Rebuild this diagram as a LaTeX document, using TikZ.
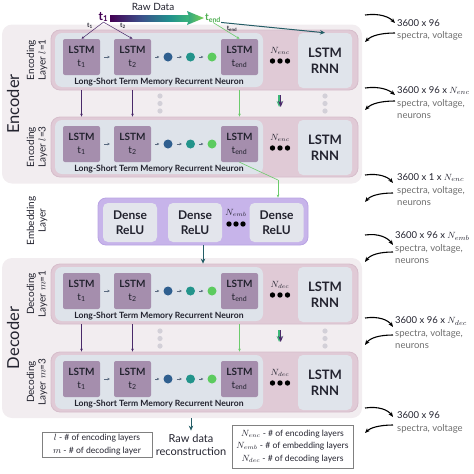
\documentclass[tikz,border=0pt]{standalone}
\usepackage{fontspec}
\setmainfont{Lato}
\usetikzlibrary{arrows.meta}
\definecolor{bgc}{HTML}{F2EDF0}
\definecolor{layerc}{HTML}{E0CAD6}
\definecolor{layerd}{HTML}{D6BDCB}
\definecolor{panelc}{HTML}{DEE3EA}
\definecolor{lstmc}{HTML}{A58EAD}
\definecolor{rnnc}{HTML}{E0E4EB}
\definecolor{embc}{HTML}{C7B4EA}
\definecolor{embd}{HTML}{B9A3E3}
\definecolor{densec}{HTML}{E3E5EC}
\definecolor{txtc}{HTML}{23232F}
\definecolor{greyt}{HTML}{6E6E6E}
\definecolor{dpurp}{HTML}{4A2A6A}
\definecolor{lgreen}{HTML}{6CCB6C}
\definecolor{tealc}{HTML}{245D66}
\definecolor{dotb}{HTML}{2F5F8F}
\definecolor{dott}{HTML}{23948B}
\definecolor{dotg}{HTML}{5CCB5F}
\definecolor{dotgrey}{HTML}{D3D0D8}
\definecolor{chainc}{HTML}{5A6A80}
\definecolor{vira}{HTML}{440154}
\definecolor{virb}{HTML}{3B528B}
\definecolor{virc}{HTML}{21908D}
\definecolor{vird}{HTML}{3CB878}
\definecolor{vire}{HTML}{7AD151}
\pgfdeclarehorizontalshading{rawgrad}{100bp}{color(0bp)=(vira); color(25bp)=(vira); color(45bp)=(virb); color(62bp)=(virc); color(75bp)=(vird); color(100bp)=(vird)}
\newcommand\fsz[2]{\fontsize{#1}{#2}\selectfont}
\tikzset{
  bgbox/.style={fill=bgc, rounded corners=10pt, inner sep=0pt},
  layerbox/.style={fill=layerc, draw=layerd, line width=0.8pt, rounded corners=9pt, minimum width=307pt, minimum height=60pt, inner sep=0pt},
  panel/.style={fill=panelc, rounded corners=7pt, minimum width=208pt, minimum height=54pt, inner sep=0pt},
  lstm/.style={fill=lstmc, rounded corners=2pt, minimum width=37pt, minimum height=36pt, inner sep=0pt, align=center, text=txtc, font=\fsz{10}{13}},
  rnn/.style={fill=rnnc, rounded corners=5pt, minimum width=54pt, minimum height=55pt, inner sep=0pt, align=center, text=txtc, font=\bfseries\fsz{13}{16}},
  dense/.style={fill=densec, rounded corners=5pt, minimum width=54pt, minimum height=39pt, inner sep=0pt, align=center, text=txtc, font=\bfseries\fsz{12}{15}},
  embbox/.style={fill=embc, draw=embd, line width=0.8pt, rounded corners=8pt, minimum width=210pt, minimum height=47pt, inner sep=0pt},
  dotn/.style={circle, minimum size=9pt, inner sep=0pt},
  chain/.style={-{Stealth[length=2.5pt,width=2.5pt]}, draw=chainc, line width=0.5pt, shorten <=4pt, shorten >=4pt},
  neur/.style={font=\bfseries\fsz{8.6}{10}, text=txtc, inner sep=0pt},
  nlab/.style={font=\fsz{9}{10}, text=txtc, inner sep=0pt},
  llab/.style={rotate=90, align=center, font=\fsz{10}{11.5}, text=txtc, inner sep=0pt},
  biglab/.style={rotate=90, font=\fsz{16.5}{18}, text=txtc, inner sep=0pt},
  parr/.style={-{Stealth[length=3pt,width=2.6pt]}, draw=dpurp, line width=0.5pt},
  garr/.style={-{Stealth[length=3pt,width=2.6pt]}, draw=lgreen, line width=0.6pt},
  tarr/.style={-{Stealth[length=5pt,width=4.5pt]}, draw=tealc, line width=1pt},
  cur/.style={-{Stealth[length=5pt,width=4pt]}, draw=black, line width=1.1pt},
  ann/.style={anchor=north west, align=left, inner sep=0pt, font=\fsz{9.5}{12.5}, text=txtc},
  legend/.style={draw=gray, line width=0.6pt, fill=white, align=center, inner sep=2pt, font=\fsz{8.6}{12.5}, text=txtc},
  smalllab/.style={font=\bfseries\fsz{6.5}{7}, text=txtc, inner sep=0pt}
}
\newcommand\mylayer[3]{%
  \node[layerbox] (#1) at (204.5,#2) {};
  \node[panel] (#1p) at (159,#2) {};
  \node[lstm] (#1a) at (81.5,#2-3) {{\bfseries LSTM}\\t\textsubscript{1}};
  \node[lstm] (#1b) at (132.5,#2-3) {{\bfseries LSTM}\\t\textsubscript{2}};
  \node[dotn, fill=dotb] (#1x) at (168,#2-3) {};
  \node[dotn, fill=dott] (#1y) at (190.5,#2-3) {};
  \node[dotn, fill=dotg] (#1z) at (212,#2-3) {};
  \node[lstm] (#1c) at (239.5,#2-3) {{\bfseries LSTM}\\t\textsubscript{end}};
  \draw[chain] (#1a) -- (#1b);
  \draw[chain] (#1b) -- (#1x);
  \draw[chain] (#1x) -- (#1y);
  \draw[chain] (#1y) -- (#1z);
  \node[neur] (#1t) at (159,#2+22.5) {Long-Short Term Memory Recurrent Neuron};
  \node[nlab] (#1n) at (280,#2-9) {#3};
  \fill[black] (272.5,#2+1) circle (2.7pt) (280,#2+1) circle (2.7pt) (287.5,#2+1) circle (2.7pt);
  \node[rnn] (#1r) at (325,#2+0.5) {LSTM\\RNN};
}
\newcommand\betweenlayers[3]{% #1 upper, #2 lower, #3 y of first grey dot
  \draw[parr] (#1a |- #1.south) -- (#1a |- #2.north);
  \draw[parr] (#1b |- #1.south) -- (#1b |- #2.north);
  \draw[garr] (#1c |- #1.south) -- (#1c |- #2.north);
  \fill[dotgrey] (160,#3) circle (2.6pt) (160,#3+7.5) circle (2.6pt) (160,#3+15) circle (2.6pt);
  \fill[dotgrey] (325,#3) circle (2.6pt) (325,#3+7.5) circle (2.6pt) (325,#3+15) circle (2.6pt);
  \coordinate (#1m1) at (280,#3-1);
  \coordinate (#1m2) at (280,#3+11);
  \draw[-{Stealth[length=6pt,width=5pt]}, draw=vird, line width=1.3pt] ([xshift=-0.9pt]#1m1) -- ([xshift=-0.9pt]#1m2);
  \draw[-{Stealth[length=6pt,width=5pt]}, draw=dpurp, line width=1.3pt] ([xshift=0.7pt]#1m1) -- ([xshift=0.7pt]#1m2);
}
\begin{document}
\begin{tikzpicture}[x=1pt,y=-1pt]
\useasboundingbox (0,0) rectangle (474,474);
% backgrounds
\node[bgbox, minimum width=360pt, minimum height=159pt] (encbg) at (182,104) {};
\node[bgbox, minimum width=360pt, minimum height=160pt] (decbg) at (182,338) {};
\node[biglab] (enclab) at (13,104) {Encoder};
\node[biglab] (declab) at (13,338) {Decoder};
% layers
\mylayer{ea}{60}{$N_{enc}$}
\mylayer{eb}{147}{$N_{enc}$}
\mylayer{da}{294}{$N_{dec}$}
\mylayer{db}{382}{$N_{dec}$}
\node[llab] (eal) at (37,60) {Encoding\\Layer $l$=1};
\node[llab] (ebl) at (37,147) {Encoding\\Layer $l$=3};
\node[llab] (emblab) at (37,221) {Embedding\\Layer};
\node[llab] (dal) at (37,294) {Decoding\\Layer $m$=1};
\node[llab] (dbl) at (37,382) {Decoding\\Layer $m$=3};
\betweenlayers{ea}{eb}{96}
\betweenlayers{da}{db}{331}
% embedding
\node[embbox] (emb) at (203,221.5) {};
\node[dense] (de1) at (130,222.5) {Dense\\ReLU};
\node[dense] (de2) at (195,222.5) {Dense\\ReLU};
\node[dense] (de3) at (276.5,222.5) {Dense\\ReLU};
\node[nlab] (embn) at (236,213) {$N_{emb}$};
\fill[black] (229,224) circle (2.7pt) (236,224) circle (2.7pt) (243,224) circle (2.7pt);
% encoder -> embedding
\coordinate (ebend) at (278,180);
\draw[draw=lgreen, line width=0.6pt] (ebc.south) -- (ebend);
\draw[garr] (ebend) -- (ebend |- emb.north);
% embedding -> decoder
\draw[tarr] (emb.south) -- (emb.south |- da.north);
% raw data reconstruction
\node[align=center, font=\fsz{11}{13.5}, text=txtc] (raw) at (191,445) {Raw data\\reconstruction};
\draw[tarr] (raw.north |- decbg.south) -- (raw.north);
% top raw data arrow
\node[font=\fsz{10}{12}, text=txtc] (rawlab) at (153,7) {Raw Data};
\node[font=\bfseries\fsz{12}{14}, text=vira, inner sep=0pt] (rt1) at (103.5,17) {t\textsubscript{1}};
\node[font=\bfseries\fsz{10}{12}, text=dotg!85!black, inner sep=0pt] (rtend) at (213,18) {t\textsubscript{end}};
\shade[shading=rawgrad] (110,15) rectangle (190,21);
\shade[left color=virc!50!vird, right color=vire] (187,11) -- (204,18) -- (187,25) -- (189.5,18) -- cycle;
\draw[parr] (rt1.south) -- (eaa.north);
\draw[parr] (rt1.south) -- (eab.north);
\node[smalllab] (lt1) at (90,26) {t\textsubscript{1}};
\node[smalllab] (lt2) at (123,26) {t\textsubscript{2}};
\draw[garr] (rtend.south) -- (eac.north);
\node[smalllab] (ltend) at (232,28.5) {t\textsubscript{end}};
\draw[tarr] (rtend.south east) -- (ear.north);
% annotations
\node[ann] (a1) at (397,19) {3600 x 96\\{\color{greyt}spectra, voltage}};
\draw[cur] (365,15) .. controls (380,13) and (389,17) .. (395,23);
\draw[cur] (395,33) .. controls (380,33) and (371,36) .. (365,42);
\node[ann] (a2) at (397,86.5) {3600 x 96 x $N_{enc}$\\{\color{greyt}spectra, voltage,}\\{\color{greyt}neurons}};
\draw[cur] (365,88) .. controls (380,86) and (389,90) .. (395,95);
\draw[cur] (395,101) .. controls (380,101) and (371,104) .. (365,110);
\node[ann] (a3) at (397,173.5) {3600 x 1 x $N_{enc}$\\{\color{greyt}spectra, voltage,}\\{\color{greyt}neurons}};
\draw[cur] (365,175) .. controls (379,173) and (388,177) .. (393,183);
\draw[cur] (393,193) .. controls (379,193) and (370,196) .. (365,202);
\node[ann] (a4) at (395,231.5) {3600 x 96 x $N_{emb}$\\{\color{greyt}spectra, voltage,}\\{\color{greyt}neurons}};
\draw[cur] (365,235) .. controls (379,233) and (388,238) .. (393,245);
\draw[cur] (393,252) .. controls (379,252) and (370,255) .. (365,262);
\node[ann] (a5) at (395,316.5) {3600 x 96 x $N_{dec}$\\{\color{greyt}spectra, voltage,}\\{\color{greyt}neurons}};
\draw[cur] (365,318) .. controls (379,316) and (388,320) .. (393,327);
\draw[cur] (393,335) .. controls (379,335) and (370,338) .. (365,345);
\node[ann] (a6) at (397,411.5) {3600 x 96\\{\color{greyt}spectra, voltage}};
\draw[cur] (365,408) .. controls (379,406) and (388,410) .. (393,417);
\draw[cur] (393,425) .. controls (379,425) and (370,428) .. (365,433);
% legends
\node[legend, minimum width=110pt, minimum height=25pt] (leg1) at (97,444.5) {$l$ - \# of encoding layers\\$m$ - \# of decoding layer};
\node[legend, minimum width=121pt, minimum height=43pt] (leg2) at (292.5,446.5) {$N_{enc}$ - \# of encoding layers\\$N_{emb}$ - \# of embedding layers\\$N_{dec}$ - \# of decoding layers};
\end{tikzpicture}
\end{document}
